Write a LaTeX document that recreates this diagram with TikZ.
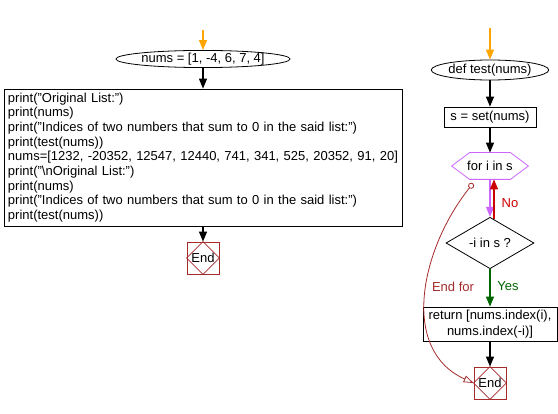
\documentclass[tikz,border=0pt]{standalone}
\usepackage{fontspec}
\setmainfont{Liberation Sans}
\usetikzlibrary{arrows.meta,shapes.geometric,calc}
\definecolor{endbrown}{RGB}{165,42,42}
\definecolor{startorange}{RGB}{255,165,0}
\definecolor{looppurple}{RGB}{204,102,255}
\definecolor{nored}{RGB}{204,0,0}
\definecolor{yesgreen}{RGB}{0,102,0}
\begin{document}
\begin{tikzpicture}[x=1pt,y=-1pt,font=\fontsize{13}{14.7}\selectfont,line width=0.8pt,
  flow/.style={-{Triangle[width=8pt,length=10pt]},line width=1.2pt},
  endbox/.style={draw=endbrown,minimum size=32,inner sep=0}]
\useasboundingbox (0,0) rectangle (558,414);
% left column
\coordinate (startl) at (203,30);
\node[ellipse,draw,minimum width=144,minimum height=16,inner sep=0](nums)at(203,59){nums = [1, -4, 6, 7, 4]};
\node[draw,text width=390,align=left,inner xsep=4,inner ysep=2,minimum height=137](prints)at(203,157.5){print("Original List:")\\
print(nums)\\
print("Indices of two numbers that sum to 0 in the said list:")\\
print(test(nums))\\
nums=[1232, -20352, 12547, 12440, 741, 341, 525, 20352, 91, 20]\\
print("\textbackslash nOriginal List:")\\
print(nums)\\
print("Indices of two numbers that sum to 0 in the said list:")\\
print(test(nums))};
\node[endbox](endl)at(203,258){End};
\draw[flow,startorange] (startl) -- (nums);
\draw[flow] (nums) -- (prints);
\draw[flow] (prints) -- (endl);
% right column
\coordinate (startr) at (490,28);
\node[ellipse,draw,minimum width=101,minimum height=20,inner sep=0](def)at(490,70){def test(nums)};
\node[draw,minimum width=92,minimum height=20,inner sep=0](set)at(490,117){s = set(nums)};
\node[minimum width=76,minimum height=26,inner sep=0](loop)at(490,166){for i in s};
\draw[looppurple] (loop.west) -- ($(loop.north west)+(18,0)$) -- ($(loop.north east)+(-18,0)$)
  -- (loop.east) -- ($(loop.south east)+(-18,0)$) -- ($(loop.south west)+(18,0)$) -- cycle;
\node[diamond,draw,minimum width=88,minimum height=40,inner sep=0](cond)at(490,243){-i in s ?};
\node[draw,align=center,minimum width=134,minimum height=34,inner sep=0](ret)at(490,324){return [nums.index(i),\\[1pt]nums.index(-i)]};
\node[endbox](endr)at(490,383){End};
\foreach \e in {endl,endr}
  \draw[endbrown,line width=0.6pt] (\e.north) -- (\e.east) -- (\e.south) -- (\e.west) -- cycle;
\draw[flow,startorange] (startr) -- (def);
\draw[flow] (def) -- (set);
\draw[flow] (set) -- (loop);
\draw[flow,looppurple] (loop.south) -- (cond.north);
\draw[flow,nored] ($(cond.north)+(4,2)$) -- ($(loop.south)+(4,0)$);
\node[text=nored](no)at(510,203){No};
\draw[flow,yesgreen] (cond) -- (ret);
\node[text=yesgreen](yes)at(508,286){Yes};
\draw[flow] (ret) -- (endr);
\draw[endbrown,{Circle[open,length=6pt]}-{Triangle[open,width=7pt,length=10pt]}] ($(loop.south)+(-17,4)$)
  .. controls (420,250) and (400,350) .. (endr.west);
\node[text=endbrown](endfor)at(453,287){End for};
\end{tikzpicture}
\end{document}
